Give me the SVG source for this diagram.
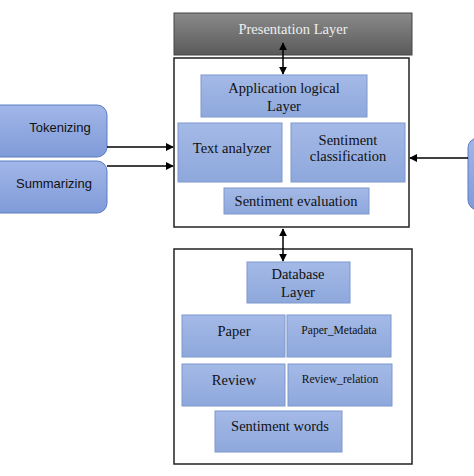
<svg xmlns="http://www.w3.org/2000/svg" width="474" height="476" viewBox="0 0 474 476">
<defs>
<linearGradient id="gb" x1="0" y1="0" x2="0" y2="1"><stop offset="0" stop-color="#a4b9e6"/><stop offset="1" stop-color="#8ea8dc"/></linearGradient>
<linearGradient id="gl" x1="0" y1="0" x2="0" y2="1"><stop offset="0" stop-color="#a2b6e8"/><stop offset="1" stop-color="#7f9bd9"/></linearGradient>
<linearGradient id="gg" x1="0" y1="0" x2="0" y2="1"><stop offset="0" stop-color="#8a8a8a"/><stop offset="1" stop-color="#5a5a5a"/></linearGradient>
<marker id="ah" viewBox="0 0 10 10" refX="9" refY="5" markerWidth="8" markerHeight="8" markerUnits="userSpaceOnUse" orient="auto-start-reverse"><path d="M0,0 L10,5 L0,10 z" fill="#000"/></marker>
<style>
.b{fill:url(#gb);stroke:#7c98cf;stroke-width:1}
.r{fill:url(#gl);stroke:#5b7cc2;stroke-width:1}
.o{fill:#fff;stroke:#222;stroke-width:1.5}
.t{font-family:"Liberation Serif",serif;font-size:14.5px;fill:#111;text-anchor:middle}
.s{font-family:"Liberation Serif",serif;font-size:11.6px;fill:#111;text-anchor:middle}
.k{font-family:"Liberation Sans",sans-serif;font-size:13px;fill:#111;text-anchor:middle}
.c{stroke:#000;stroke-width:1.5;fill:none}
</style>
</defs>
<g id="presentation"><rect x="174" y="13" width="238" height="42" fill="url(#gg)" stroke="#444" stroke-width="1"/><text class="t" x="293" y="34" style="fill:#eee">Presentation Layer</text></g>
<g id="app-container"><rect class="o" x="174" y="58" width="235" height="169"/></g>
<g id="app-layer"><rect class="b" x="201" y="75" width="166" height="42"/><text class="t" x="284" y="93">Application logical</text><text class="t" x="284" y="111">Layer</text></g>
<g id="text-analyzer"><rect class="b" x="178" y="123" width="104" height="59"/><text class="t" x="232" y="153">Text analyzer</text></g>
<g id="sentiment-classification"><rect class="b" x="291" y="123" width="114" height="59"/><text class="t" x="348" y="145">Sentiment</text><text class="t" x="348" y="161">classification</text></g>
<g id="sentiment-evaluation"><rect class="b" x="224" y="188" width="145" height="26"/><text class="t" x="296" y="206">Sentiment evaluation</text></g>
<g id="db-container"><rect class="o" x="174" y="249" width="238" height="215"/></g>
<g id="db-layer"><rect class="b" x="247" y="262" width="103" height="41"/><text class="t" x="298" y="279">Database</text><text class="t" x="298" y="297">Layer</text></g>
<g id="paper"><rect class="b" x="182" y="315" width="103" height="42"/><text class="t" x="234" y="336">Paper</text></g>
<g id="paper-metadata"><rect class="b" x="287" y="315" width="104" height="42"/><text class="s" x="339" y="334">Paper_Metadata</text></g>
<g id="review"><rect class="b" x="182" y="364" width="103" height="42"/><text class="t" x="234" y="385">Review</text></g>
<g id="review-relation"><rect class="b" x="288" y="364" width="104" height="42"/><text class="s" x="340" y="383">Review_relation</text></g>
<g id="sentiment-words"><rect class="b" x="215" y="411" width="127" height="41"/><text class="t" x="280" y="431">Sentiment words</text></g>
<g id="tokenizing"><rect class="r" x="-12" y="105" width="119" height="52" rx="10"/><text class="k" x="60" y="132">Tokenizing</text></g>
<g id="summarizing"><rect class="r" x="-12" y="161" width="119" height="52" rx="10"/><text class="k" x="54" y="188">Summarizing</text></g>
<g id="right-node"><rect class="r" x="468" y="138" width="30" height="72" rx="10"/></g>
<g id="connectors">
<line class="c" x1="283" y1="43" x2="283" y2="74" marker-start="url(#ah)" marker-end="url(#ah)"/>
<line class="c" x1="283" y1="229" x2="283" y2="261" marker-start="url(#ah)" marker-end="url(#ah)"/>
<line class="c" x1="107" y1="147" x2="173" y2="147" marker-end="url(#ah)"/>
<line class="c" x1="107" y1="166" x2="173" y2="166" marker-end="url(#ah)"/>
<line class="c" x1="468" y1="158" x2="410" y2="158" marker-end="url(#ah)"/>
</g>
</svg>
